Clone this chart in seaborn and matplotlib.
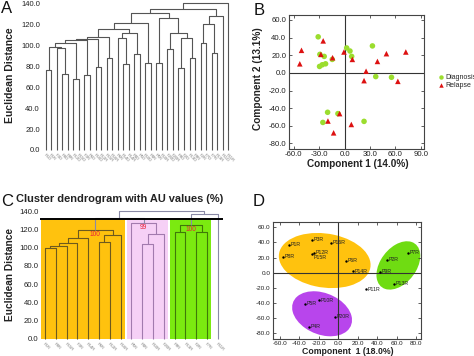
import matplotlib
matplotlib.use("Agg")
import matplotlib.pyplot as plt
from matplotlib.patches import Ellipse
from matplotlib.ticker import FormatStrFormatter
import pandas as pd
import seaborn as sns

# ---- panel A: dendrogram of all samples (leaf order = display order)
leaves_a = ["P1D", "P1R", "P3D", "P8D", "P8R", "P12D", "P15D", "P3R", "P6D", "P16D",
            "P12R", "P15R", "P16R", "P6R", "P14D", "P14R", "P4D", "P5D", "P10D", "P4R",
            "P5R", "P10R", "P20D", "P20R", "P9D", "P2D", "P13D", "P9R", "P2R", "P7D",
            "P7R", "P13R", "P11D", "P11R"]
# (left, right, height); ids >= n refer to earlier merges
merges_a = [(0, 1, 76.0), (3, 4, 73.0), (2, 35, 97.0), (34, 36, 98.6), (5, 6, 68.0),
            (37, 38, 102.4), (7, 8, 71.6), (39, 40, 105.0), (9, 10, 79.5), (41, 42, 105.6),
            (11, 12, 88.0), (43, 44, 107.5), (14, 15, 82.0), (13, 46, 107.0), (16, 17, 92.0),
            (47, 48, 111.4), (45, 49, 115.0), (18, 19, 82.7), (50, 51, 121.5), (20, 21, 82.7),
            (22, 23, 96.5), (24, 25, 78.0), (26, 27, 88.0), (55, 56, 107.0), (54, 57, 111.4),
            (53, 58, 125.6), (52, 59, 130.4), (28, 29, 102.0), (30, 31, 93.0), (61, 62, 120.2),
            (63, 32, 127.9), (60, 64, 134.2), (65, 33, 140.0)]

# ---- panel B: PCA of diagnosis / relapse samples
diag_pc1 = [-31.2, -29.2, -24.1, -29.6, -26.4, -22.5, -14.6, 2.4, 6.3, 8.3, 32.8, 36.7,
            55.3, -20.1, -25.7, -7.9, 22.9]
diag_pc2 = [40.9, 21.0, 18.7, 7.3, 9.2, 10.3, 15.3, 28.3, 24.8, 18.7, 30.6, -4.2,
            -5.0, -44.7, -56.2, -46.2, -55.0]
rel_pc1 = [-50.9, -52.9, -25.3, -28.0, -14.2, -0.8, 9.1, 25.3, 22.9, 38.7, 49.3, 72.2,
           62.8, -5.9, -19.7, -13.0, 7.9]
rel_pc2 = [25.6, 10.3, 36.3, 21.0, 17.2, 23.7, 15.3, 1.9, -8.8, 13.0, 21.8, 23.7,
           -9.6, -46.2, -54.6, -68.0, -58.5]

# ---- panel C: relapse dendrogram with AU values
leaves_c = ["P1R", "P8R", "P15R", "P3R", "P14R", "P6R", "P12R", "P16R",
            "P5R", "P4R", "P10R", "P20R", "P9R", "P13R", "P2R", "P7R", "P11R"]
leaf_cluster_c = [0, 0, 0, 0, 0, 0, 0, 0, 1, 1, 1, 1, 2, 2, 2, 2, 3]
merges_c = [(0, 1, 99.7), (17, 2, 101.5), (18, 3, 104.8), (19, 4, 110.5), (5, 6, 106.0),
            (21, 7, 114.0), (20, 22, 119.8), (9, 10, 104.0), (24, 11, 115.0), (8, 25, 127.0),
            (12, 13, 117.5), (14, 15, 117.5), (27, 28, 125.3), (23, 26, 132.6), (29, 16, 137.0),
            (30, 31, 140.7)]
au_merge = [6, 9, 12]
au_value = ["100", "99", "100"]
cut_height = 131.5

# ---- panel D: PCA of relapse samples
d_labels = ["P1R", "P3R", "P16R", "P8R", "P12R", "P15R", "P6R", "P14R", "P2R", "P7R",
            "P9R", "P13R", "P11R", "P5R", "P10R", "P20R", "P4R"]
d_pc1 = [-50.5, -27.3, -7.5, -57.0, -25.0, -27.5, 7.9, 14.7, 49.9, 71.1,
         42.4, 57.4, 28.4, -34.1, -19.5, -3.4, -30.3]
d_pc2 = [36.7, 43.3, 39.3, 21.2, 26.5, 25.0, 15.9, 1.8, 17.2, 26.1,
         1.3, -15.0, -22.0, -41.5, -36.6, -58.3, -71.5]
# (center x, center y, width, height, angle)
d_ellipses = [(-14.0, 16.0, 95.7, 70.8, -16.0),
              (61.5, 9.5, 67.8, 39.0, 66.3),
              (-16.7, -54.5, 68.5, 51.3, -42.0)]

YELLOW = "#FFC20E"
PINK = "#F6D0F6"
GREEN_C = "#7BEA10"
GREEN_D = "#6FDC12"
PURPLE = "#B845EC"
TXT = "#222222"

sns.set_theme(style="white")
plt.rcParams["font.family"] = ["Liberation Sans", "DejaVu Sans"]
plt.rcParams["axes.unicode_minus"] = False


def draw_dendrogram(ax, merges, n, colors, lw=0.8):
    xs = [5 + 10 * i for i in range(n)]
    hs = [0.0] * n
    for k, (a, b, h) in enumerate(merges):
        ax.plot([xs[a], xs[a], xs[b], xs[b]], [hs[a], h, h, hs[b]],
                color=colors[k], lw=lw, clip_on=False, solid_capstyle="butt")
        xs.append((xs[a] + xs[b]) / 2)
        hs.append(h)
    return xs, hs


def leaf_sets(merges, n):
    sets = [{i} for i in range(n)]
    for a, b, _ in merges:
        sets.append(sets[a] | sets[b])
    return sets[n:]


def dendro_axes(ax, labels, fs_tick):
    n = len(labels)
    ax.set_xlim(0, 10 * n)
    ax.set_ylim(0, 140)
    ax.set_yticks(range(0, 141, 20))
    ax.yaxis.set_major_formatter(FormatStrFormatter("%.1f"))
    ax.set_xticks([5 + 10 * i for i in range(n)])
    ax.set_xticklabels(labels, rotation=-45, ha="left", va="top",
                       rotation_mode="anchor", fontsize=3, color="#777777")
    ax.tick_params(axis="both", length=0)
    ax.tick_params(axis="y", labelsize=fs_tick, labelcolor=TXT)
    ax.tick_params(axis="x", pad=2)
    for s in ax.spines.values():
        s.set_visible(False)
    ax.patch.set_alpha(0)


def frame_axes(ax, fs_tick, pad):
    for s in ax.spines.values():
        s.set_color("#444444")
        s.set_linewidth(0.8)
    ax.tick_params(axis="both", direction="in", length=2, width=0.6, color="#444444",
                   labelsize=fs_tick, labelcolor=TXT, pad=pad,
                   top=True, right=True, bottom=True, left=True)
    ax.xaxis.set_major_formatter(FormatStrFormatter("%.1f"))
    ax.yaxis.set_major_formatter(FormatStrFormatter("%.1f"))
    ax.set_xlabel("")
    ax.set_ylabel("")
    ax.axhline(0, color="#333333", lw=0.8, zorder=1)
    ax.axvline(0, color="#333333", lw=0.8, zorder=1)


W, H = 474, 356
fig = plt.figure(figsize=(W / 100, H / 100), dpi=100)
fig.patch.set_facecolor("white")

# ---------------- A
ax_a = fig.add_axes([43 / W, 1 - 150 / H, 188 / W, 146.7 / H])
dendro_axes(ax_a, leaves_a, 5.5)
ax_a.tick_params(axis="y", pad=2.2)
draw_dendrogram(ax_a, merges_a, len(leaves_a), ["#555555"] * len(merges_a))

# ---------------- B
ax_b = fig.add_axes([288.7 / W, 1 - 148.7 / H, 135.6 / W, 134 / H])
df_b = pd.DataFrame({
    "pc1": diag_pc1 + rel_pc1,
    "pc2": diag_pc2 + rel_pc2,
    "group": ["Diagnosis"] * len(diag_pc1) + ["Relapse"] * len(rel_pc1),
})
sns.scatterplot(data=df_b, x="pc1", y="pc2", hue="group", style="group",
                hue_order=["Diagnosis", "Relapse"],
                palette={"Diagnosis": "#9BDD2E", "Relapse": "#DD1111"},
                markers={"Diagnosis": "o", "Relapse": "^"},
                s=16, linewidth=0, ax=ax_b, zorder=3)
ax_b.set_xlim(-66, 94)
ax_b.set_ylim(-86, 66)
ax_b.set_xticks(range(-60, 91, 30))
ax_b.set_yticks(range(-80, 61, 20))
frame_axes(ax_b, 5.6, 1.8)
sns.move_legend(ax_b, "center left", bbox_to_anchor=(1.075, 0.5), frameon=False,
                title=None, fontsize=5, handletextpad=0.1, labelspacing=0.1,
                borderpad=0, handlelength=1.0, markerscale=0.8)

# ---------------- C
ax_c = fig.add_axes([39.6 / W, 1 - 338.7 / H, 183.6 / W, 127.4 / H])
dendro_axes(ax_c, leaves_c, 5.6)
ax_c.tick_params(axis="y", pad=0.6)
region_colors = [YELLOW, PINK, GREEN_C]
line_colors = ["#6E5A1E", "#A27AAE", "#3F7A08"]
for k, col in enumerate(region_colors):
    idx = [i for i, c in enumerate(leaf_cluster_c) if c == k]
    ax_c.axvspan(5 + 10 * idx[0] - 4, 5 + 10 * idx[-1] + 4, ymin=0, ymax=cut_height / 140,
                 color=col, lw=0, zorder=0)
colors_c = []
for s in leaf_sets(merges_c, len(leaves_c)):
    cl = {leaf_cluster_c[i] for i in s}
    c = cl.pop() if len(cl) == 1 else None
    colors_c.append(line_colors[c] if c is not None and c < 3 else "#8A8AA6")
xs_c, hs_c = draw_dendrogram(ax_c, merges_c, len(leaves_c), colors_c)
ax_c.axhline(cut_height, color="black", lw=1.4, zorder=4)
for m, v in zip(au_merge, au_value):
    node = len(leaves_c) + m
    ax_c.text(xs_c[node], hs_c[node] - 5, v, color="#E8203A", fontsize=4.8,
              ha="center", va="center", zorder=5)

# ---------------- D
ax_d = fig.add_axes([273 / W, 1 - 338.7 / H, 148.3 / W, 116.7 / H])
for (cx, cy, w, h, ang), col in zip(d_ellipses, [YELLOW, GREEN_D, PURPLE]):
    ax_d.add_patch(Ellipse((cx, cy), w, h, angle=ang, facecolor=col, edgecolor="none",
                           zorder=0))
sns.scatterplot(x=d_pc1, y=d_pc2, color="black", s=3, linewidth=0, ax=ax_d, zorder=3)
for lab, x, y in zip(d_labels, d_pc1, d_pc2):
    if lab == "P15R":
        ax_d.text(x + 1.7, y - 5.3, lab, fontsize=3.8, color=TXT, va="center", zorder=4)
    else:
        ax_d.text(x + 1.5, y, lab, fontsize=3.8, color=TXT, va="center", zorder=4)
ax_d.set_xlim(-67, 85)
ax_d.set_ylim(-87.5, 67)
ax_d.set_xticks(range(-60, 81, 20))
ax_d.set_yticks(range(-80, 61, 20))
frame_axes(ax_d, 4.6, 1.9)

# ---------------- text
fig.text(0.002, 1 - 13.3 / H, "A", fontsize=12, color="#111111", va="baseline")
fig.text(253.7 / W, 1 - 15 / H, "B", fontsize=12, color="#111111", va="baseline")
fig.text(0.002, 1 - 206.3 / H, "C", fontsize=12, color="#111111", va="baseline")
fig.text(252.7 / W, 1 - 206.3 / H, "D", fontsize=12, color="#111111", va="baseline")

fig.text(10 / W, 1 - 75 / H, "Euclidean Distance", rotation=90, fontsize=7.5,
         fontweight="bold", color=TXT, ha="center", va="center")
fig.text(258 / W, 1 - 79 / H, "Component 2 (13.1%)", rotation=90, fontsize=7.3,
         fontweight="bold", color=TXT, ha="center", va="center")
fig.text(357.7 / W, 1 - 164 / H, "Component 1 (14.0%)", fontsize=7.2,
         fontweight="bold", color=TXT, ha="center", va="center")
fig.text(16 / W, 1 - 202 / H, "Cluster dendrogram with AU values (%)", fontsize=7.9,
         fontweight="bold", color=TXT, ha="left", va="baseline")
fig.text(9.7 / W, 1 - 274.5 / H, "Euclidean Distance", rotation=90, fontsize=7.3,
         fontweight="bold", color=TXT, ha="center", va="center")
fig.text(347.8 / W, 1 - 351 / H, "Component  1 (18.0%)", fontsize=6.3,
         fontweight="bold", color=TXT, ha="center", va="center")

fig.savefig("out.png", dpi=100)
